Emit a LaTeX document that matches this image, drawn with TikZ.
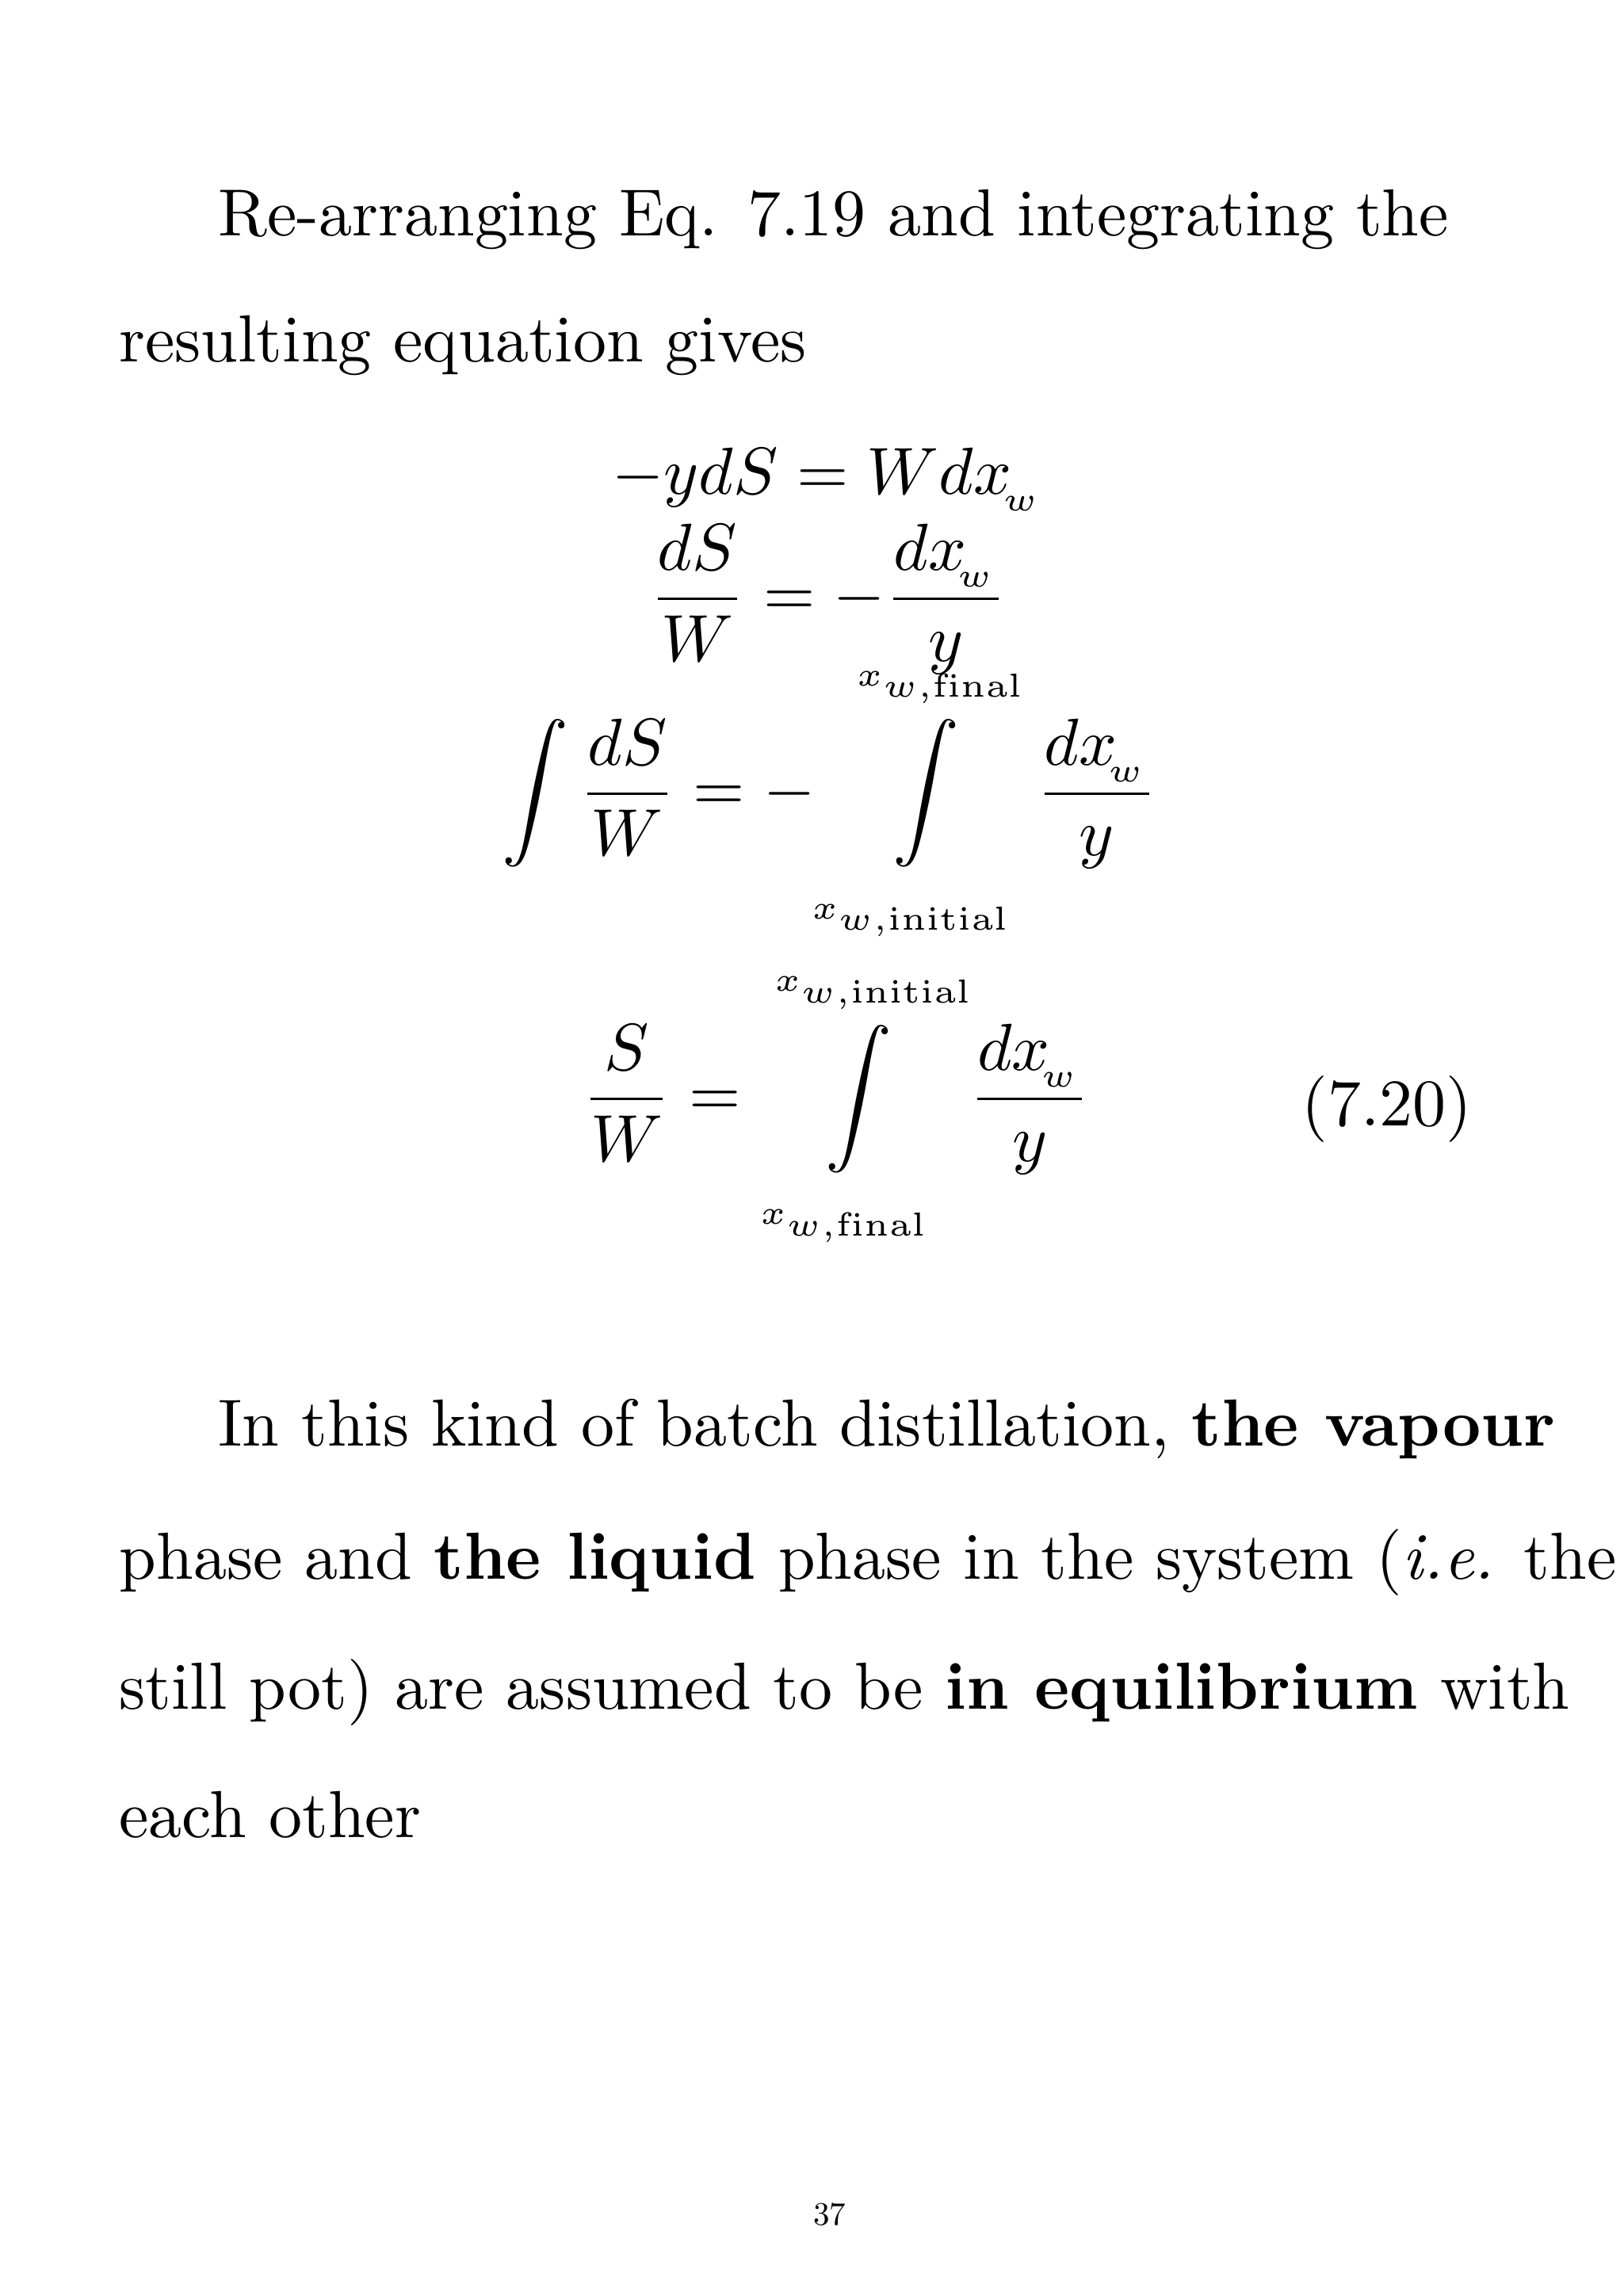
\documentclass[tikz,border=0pt]{standalone}
\usepackage{amsmath}
\begin{document}
\begin{tikzpicture}[txt/.style={inner sep=0pt,scale=2.45,transform shape,font=\fontsize{10}{12}\selectfont},
eq/.style={inner sep=0pt,scale=2.45,transform shape,font=\fontsize{10}{12}\selectfont}]
\useasboundingbox (0,0) rectangle (21,29.7);
\newcommand{\xw}{x_{\!_w}}
\newcommand{\intlim}[1]{\scriptscriptstyle x_{w,\mathrm{#1}}}
\node[txt,anchor=base west] (l1) at (2.806,26.646) {Re-arranging Eq. 7.19 and integrating the};
\node[txt,anchor=base west] (l2) at (1.527,25.02) {resulting equation gives};
\node[eq,anchor=base] (e1) at (10.71,23.305) {$-ydS = Wd\xw$};
\node[eq] (e2) at (10.71,21.95) {$\displaystyle\frac{dS}{W} = -\frac{d\xw}{y}$};
\node[eq] (e3) at (10.73,19.3) {$\displaystyle\int\frac{dS}{W} = -\int\limits_{\rule{0pt}{6pt}\intlim{initial}}^{\intlim{final}\rule[-4pt]{0pt}{4pt}}\frac{d\xw}{y}$};
\node[eq] (e4) at (10.82,15.35) {$\displaystyle\frac{S}{W} = \int\limits_{\rule{0pt}{6pt}\intlim{final}}^{\intlim{initial}\rule[-4pt]{0pt}{4pt}}\frac{d\xw}{y}$};
\node[txt] (tag) at (17.94,15.35) {(7.20)};
\node[txt,anchor=base west] (p1) at (2.806,10.992) {In this kind of batch distillation, \textbf{the vapour}};
\node[txt,anchor=base west] (p2) at (1.527,9.274) {phase and \textbf{the liquid} phase in the system (\textit{i.e.} the};
\node[txt,anchor=base west] (p3) at (1.527,7.594) {still pot) are assumed to be \textbf{in equilibrium} with};
\node[txt,anchor=base west] (p4) at (1.527,5.933) {each other};
\node[inner sep=0pt,anchor=base,scale=1.2,transform shape,font=\fontsize{10}{12}\selectfont] (pg) at (10.73,0.913) {37};
\end{tikzpicture}
\end{document}
